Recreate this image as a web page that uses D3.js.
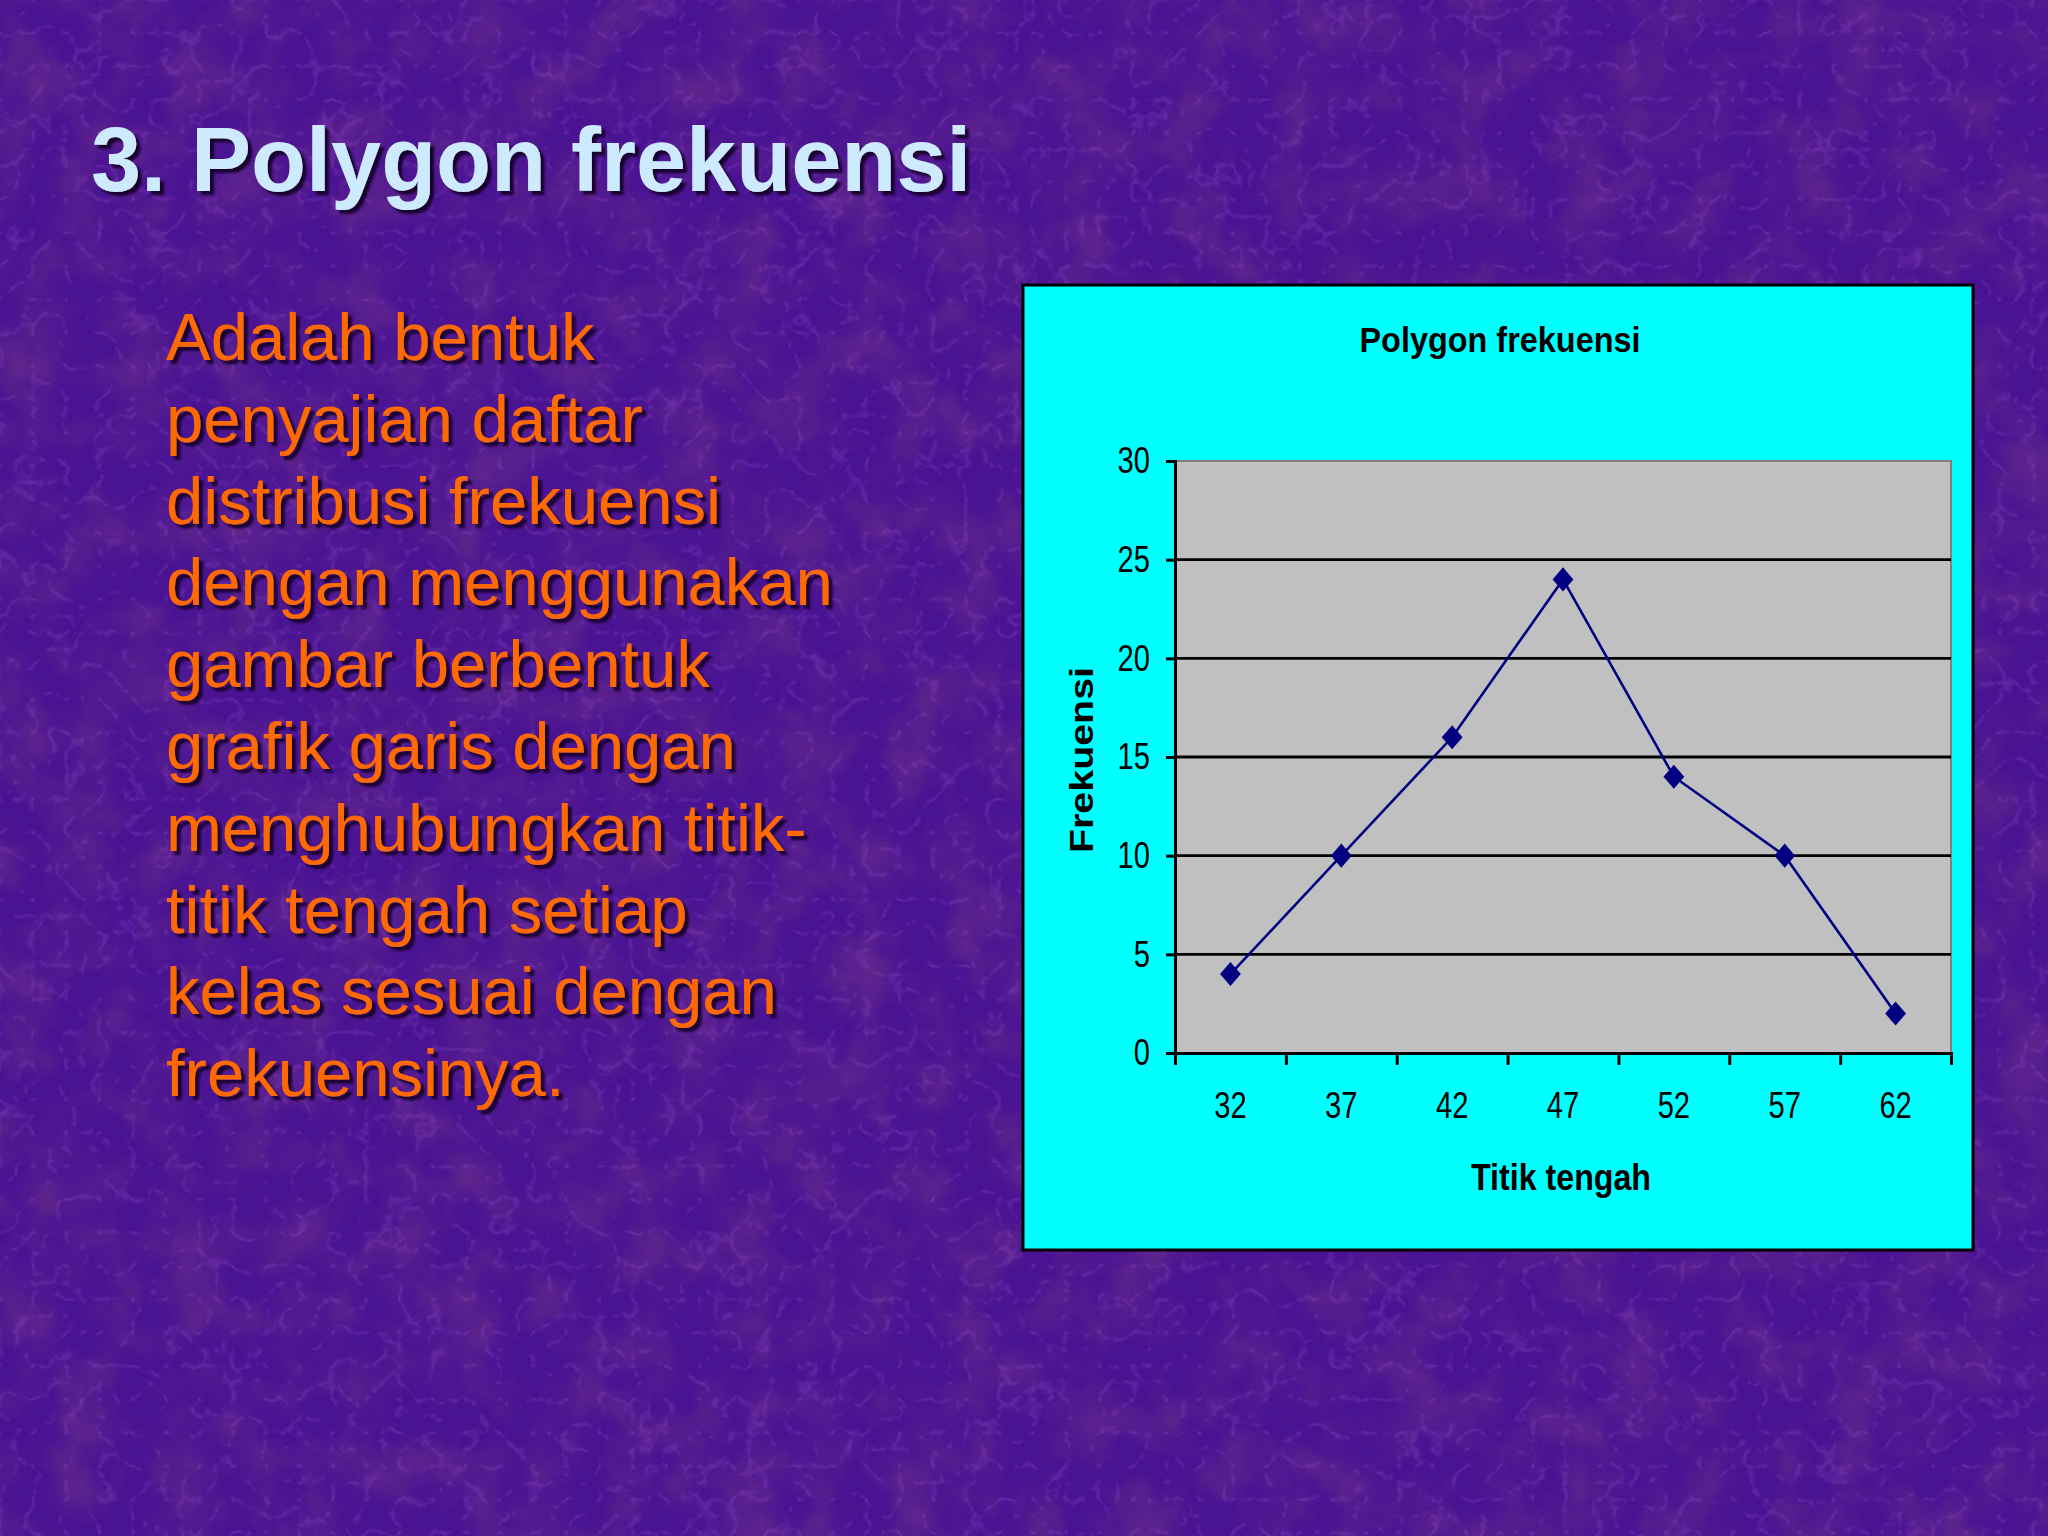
<!DOCTYPE html>
<html>
<head>
<meta charset="utf-8">
<script src="https://cdn.jsdelivr.net/npm/d3@7"></script>
<style>
  body { margin: 0; background: #46128c; }
  svg { display: block; }
</style>
</head>
<body>
<div id="slide"></div>
<script>
const midpoints = [32, 37, 42, 47, 52, 57, 62];
const frequencies = [4, 10, 16, 24, 14, 10, 2];
const yTicks = [0, 5, 10, 15, 20, 25, 30];
const slideTitle = "3. Polygon frekuensi";
const bodyLines = [
  "Adalah bentuk",
  "penyajian daftar",
  "distribusi frekuensi",
  "dengan menggunakan",
  "gambar berbentuk",
  "grafik garis dengan",
  "menghubungkan titik-",
  "titik tengah setiap",
  "kelas sesuai dengan",
  "frekuensinya."
];
const chartTitle = "Polygon frekuensi";
const xTitle = "Titik tengah";
const yTitle = "Frekuensi";

function renderSlide() {
  const W = 2048, H = 1536;
  const svg = d3.select("#slide").append("svg")
    .attr("width", W)
    .attr("height", H);

  const defs = svg.append("defs");

  // mottled purple background: dark blotches plus faint light veins
  const dark = defs.append("filter").attr("id", "dark")
    .attr("x", 0).attr("y", 0).attr("width", "100%").attr("height", "100%");
  dark.append("feTurbulence")
    .attr("type", "fractalNoise")
    .attr("baseFrequency", 0.018)
    .attr("numOctaves", 4)
    .attr("seed", 3);
  dark.append("feColorMatrix")
    .attr("type", "matrix")
    .attr("values", "0 0 0 0 0.12  0 0 0 0 0.02  0 0 0 0 0.26  1.8 0 0 0 -0.7");

  const veins = defs.append("filter").attr("id", "veins")
    .attr("x", 0).attr("y", 0).attr("width", "100%").attr("height", "100%");
  veins.append("feTurbulence")
    .attr("type", "turbulence")
    .attr("baseFrequency", 0.03)
    .attr("numOctaves", 3)
    .attr("seed", 11);
  veins.append("feColorMatrix")
    .attr("type", "matrix")
    .attr("values", "0 0 0 0 0.45  0 0 0 0 0.12  0 0 0 0 0.75  -1.4 0 0 0 0.25");

  const shadow = defs.append("filter").attr("id", "shadow")
    .attr("x", "-5%").attr("y", "-20%").attr("width", "115%").attr("height", "150%");
  shadow.append("feDropShadow")
    .attr("dx", 4).attr("dy", 4)
    .attr("stdDeviation", 1)
    .attr("flood-color", "#12042a")
    .attr("flood-opacity", 0.95);

  svg.append("rect").attr("width", W).attr("height", H).attr("fill", "#4a1392");
  svg.append("rect").attr("width", W).attr("height", H).attr("filter", "url(#dark)");
  svg.append("rect").attr("width", W).attr("height", H).attr("filter", "url(#veins)");

  const sans = "'Liberation Sans', Arial, sans-serif";

  svg.append("text")
    .attr("x", 91)
    .attr("y", 191)
    .attr("filter", "url(#shadow)")
    .style("font-family", sans)
    .style("font-weight", "bold")
    .style("font-size", "90px")
    .attr("fill", "#cdeaff")
    .text(slideTitle);

  svg.append("g")
    .attr("filter", "url(#shadow)")
    .selectAll("text")
    .data(bodyLines)
    .join("text")
    .attr("x", 166)
    .attr("y", (d, i) => 360 + i * 81.8)
    .style("font-family", sans)
    .style("font-size", "67px")
    .attr("fill", "#ff6a00")
    .text(d => d);

  // chart box
  svg.append("rect")
    .attr("x", 1023)
    .attr("y", 285)
    .attr("width", 950)
    .attr("height", 965)
    .attr("fill", "#00ffff")
    .attr("stroke", "#000")
    .attr("stroke-width", 3);

  const margin = { left: 1175, top: 461 };
  const width = 776;
  const height = 592;

  const g = svg.append("g")
    .attr("transform", `translate(${margin.left},${margin.top})`);

  const x = d3.scaleBand()
    .domain(midpoints)
    .range([0, width]);

  const y = d3.scaleLinear()
    .domain([0, 30])
    .range([height, 0]);

  g.append("rect")
    .attr("width", width)
    .attr("height", height)
    .attr("fill", "#c0c0c0")
    .attr("stroke", "#808080")
    .attr("stroke-width", 2);

  g.append("g")
    .selectAll("line")
    .data(yTicks.filter(t => t > 0 && t < 30))
    .join("line")
    .attr("x1", 0)
    .attr("x2", width)
    .attr("y1", d => y(d))
    .attr("y2", d => y(d))
    .attr("stroke", "#000")
    .attr("stroke-width", 2.8);

  // narrow digits like the original: squeeze Liberation Sans to Arial Narrow width
  const narrowText = sel => sel
    .style("font-family", sans)
    .style("font-size", "37px")
    .attr("fill", "#000")
    .attr("textLength", function() { return this.textContent.length * 16.2; })
    .attr("lengthAdjust", "spacingAndGlyphs");

  const yAxis = g.append("g")
    .call(d3.axisLeft(y).tickValues(yTicks).tickSize(9).tickPadding(16));
  yAxis.selectAll("path, line").attr("stroke", "#000").attr("stroke-width", 3);
  yAxis.selectAll("text").call(narrowText);

  // tick marks sit on category boundaries
  const edge = d3.scaleLinear().domain([0, midpoints.length]).range([0, width]);
  const xTicks = g.append("g")
    .attr("transform", `translate(0,${height})`)
    .call(d3.axisBottom(edge).tickValues(d3.range(midpoints.length + 1)).tickSize(12).tickFormat(""));
  xTicks.selectAll("path, line").attr("stroke", "#000").attr("stroke-width", 3);

  const xAxis = g.append("g")
    .attr("transform", `translate(0,${height})`)
    .call(d3.axisBottom(x).tickSize(0).tickPadding(39));
  xAxis.select(".domain").remove();
  xAxis.selectAll("text").call(narrowText);

  const line = d3.line()
    .x((d, i) => x(midpoints[i]) + x.bandwidth() / 2)
    .y(d => y(d));

  g.append("path")
    .datum(frequencies)
    .attr("fill", "none")
    .attr("stroke", "#000080")
    .attr("stroke-width", 2.6)
    .attr("d", line);

  g.selectAll(".marker")
    .data(frequencies)
    .join("path")
    .attr("class", "marker")
    .attr("d", d3.symbol(d3.symbolSquare, 240))
    .attr("transform", (d, i) => `translate(${x(midpoints[i]) + x.bandwidth() / 2},${y(d)}) scale(0.95,1.1) rotate(45)`)
    .attr("fill", "#000080");

  svg.append("text")
    .attr("x", 1500)
    .attr("y", 352)
    .attr("text-anchor", "middle")
    .attr("textLength", 281)
    .attr("lengthAdjust", "spacingAndGlyphs")
    .style("font-family", sans)
    .style("font-weight", "bold")
    .style("font-size", "35px")
    .text(chartTitle);

  svg.append("text")
    .attr("x", 1561)
    .attr("y", 1190)
    .attr("text-anchor", "middle")
    .attr("textLength", 180)
    .attr("lengthAdjust", "spacingAndGlyphs")
    .style("font-family", sans)
    .style("font-weight", "bold")
    .style("font-size", "36px")
    .text(xTitle);

  svg.append("text")
    .attr("transform", "translate(1093,760) rotate(-90)")
    .attr("text-anchor", "middle")
    .attr("textLength", 186)
    .attr("lengthAdjust", "spacingAndGlyphs")
    .style("font-family", sans)
    .style("font-weight", "bold")
    .style("font-size", "33px")
    .text(yTitle);
}

renderSlide();
</script>
</body>
</html>
